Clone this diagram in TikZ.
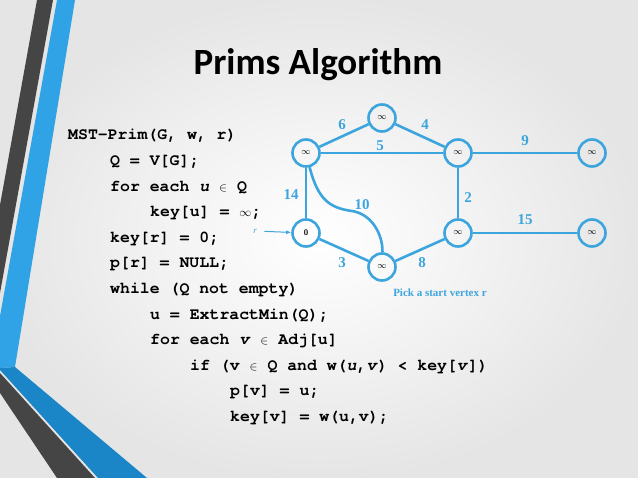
\documentclass[tikz,border=0pt]{standalone}
\usepackage{fontspec}
\setmainfont{Liberation Serif}
\newfontfamily\codefont{TeX Gyre Cursor}
\newfontfamily\titlefont{Carlito}
\usetikzlibrary{arrows.meta,positioning}
\definecolor{graphblue}{HTML}{3DA5DE}
\definecolor{stripeblue}{HTML}{2FA3E6}
\definecolor{bandblue}{HTML}{1A86C7}
\definecolor{stripegray}{HTML}{454545}
\newcommand{\elem}{{\fontsize{12}{12}\selectfont$\in$}}

\begin{document}
\begin{tikzpicture}[x=1pt,y=-1pt,
  vertex/.style={draw=graphblue,circle,line width=2.6pt,minimum size=27pt,inner sep=0pt,font=\small},
  wt/.style={text=graphblue,font=\bfseries\fontsize{15}{15}\selectfont},
  code/.style={anchor=base west,inner sep=0pt,font=\codefont\bfseries\fontsize{16.5}{16.5}\selectfont},
  edge/.style={draw=graphblue,line width=2.6pt}]
% background and frame
\shade[inner color=white,outer color=black!10] (0,0) rectangle (638,478);
\useasboundingbox (0,0) rectangle (638,478);

% left stripes
\fill[stripegray] (37,0) -- (53,0) -- (0,293) -- (0,205) -- cycle;
\fill[stripeblue] (57,0) -- (75,0) -- (15,367) -- (0,368) -- (0,316) -- cycle;
\fill[bandblue] (15,367) -- (0,368) -- (0,370) -- (98,478) -- (147,478) -- cycle;
\fill[stripegray] (0,373) -- (95,478) -- (57,478) -- (0,393) -- cycle;

% title
\node[anchor=base,font=\titlefont\bfseries\fontsize{37}{37}\selectfont] (title) at (318,75) {Prims Algorithm};

% pseudocode
\node[code] (l1) at (68,140) {MST-Prim(G, w, r)};
\node[code] (l2) at (110,165.6) {Q = V[G];};
\node[code] (l3) at (110,191.2) {for each \textit{u} \elem{} Q};
\node[code] (l4) at (150,216.8) {key[u] = {\fontsize{13}{13}\selectfont$\infty$};};
\node[code] (l5) at (110,242.4) {key[r] = 0;};
\node[code] (l6) at (110,268) {p[r] = NULL;};
\node[code] (l7) at (110,293.6) {while (Q not empty)};
\node[code] (l8) at (150,319.2) {u = ExtractMin(Q);};
\node[code] (l9) at (150,344.8) {for each \textit{v} \elem{} Adj[u]};
\node[code] (l10) at (190,370.4) {if (v \elem{} Q and w(\textit{u},\textit{v}) < key[\textit{v}])};
\node[code] (l11) at (230,396) {p[v] = u;};
\node[code] (l12) at (230,421.6) {key[v] = w(u,v);};

% graph
\node[vertex] (top) at (382,118) {$\infty$};
\node[vertex] (lu) at (306,153) {$\infty$};
\node[vertex] (mu) at (458,153) {$\infty$};
\node[vertex] (ru) at (592,153) {$\infty$};
\node[vertex] (r0) at (306,233) {\sffamily\bfseries\footnotesize 0};
\node[vertex] (ml) at (458,233) {$\infty$};
\node[vertex] (rl) at (592,233) {$\infty$};
\node[vertex] (bot) at (382,267) {$\infty$};
\coordinate (bend) at (352,211);

\draw[edge] (lu) -- (top);
\draw[edge] (top) -- (mu);
\draw[edge] (lu) -- (mu);
\draw[edge] (mu) -- (ru);
\draw[edge] (lu) -- (r0);
\draw[edge] (mu) -- (ml);
\draw[edge] (ml) -- (rl);
\draw[edge] (r0) -- (bot);
\draw[edge] (bot) -- (ml);
\draw[edge] (lu) .. controls (318,200) and (330,208) .. (bend)
  .. controls (372,214) and (383,235) .. (bot);

% weights
\node[wt] (w6) at (342,125) {6};
\node[wt] (w4) at (425,125) {4};
\node[wt] (w5) at (380,146) {5};
\node[wt] (w9) at (525,141) {9};
\node[wt] (w14) at (291,195) {14};
\node[wt] (w10) at (362,205) {10};
\node[wt] (w2) at (468,198) {2};
\node[wt] (w15) at (525,220) {15};
\node[wt] (w3) at (342,263) {3};
\node[wt] (w8) at (422,263) {8};

% start vertex
\node[text=graphblue,font=\itshape\small] (rlab) at (255,231) {r};
\draw[graphblue,line width=1pt,-{Latex[length=5pt,width=4pt]},shorten <=4pt] (rlab) -- (r0);
\node[text=graphblue,font=\bfseries\fontsize{11}{11}\selectfont] (pick) at (440,293) {Pick a start vertex r};
\end{tikzpicture}
\end{document}
